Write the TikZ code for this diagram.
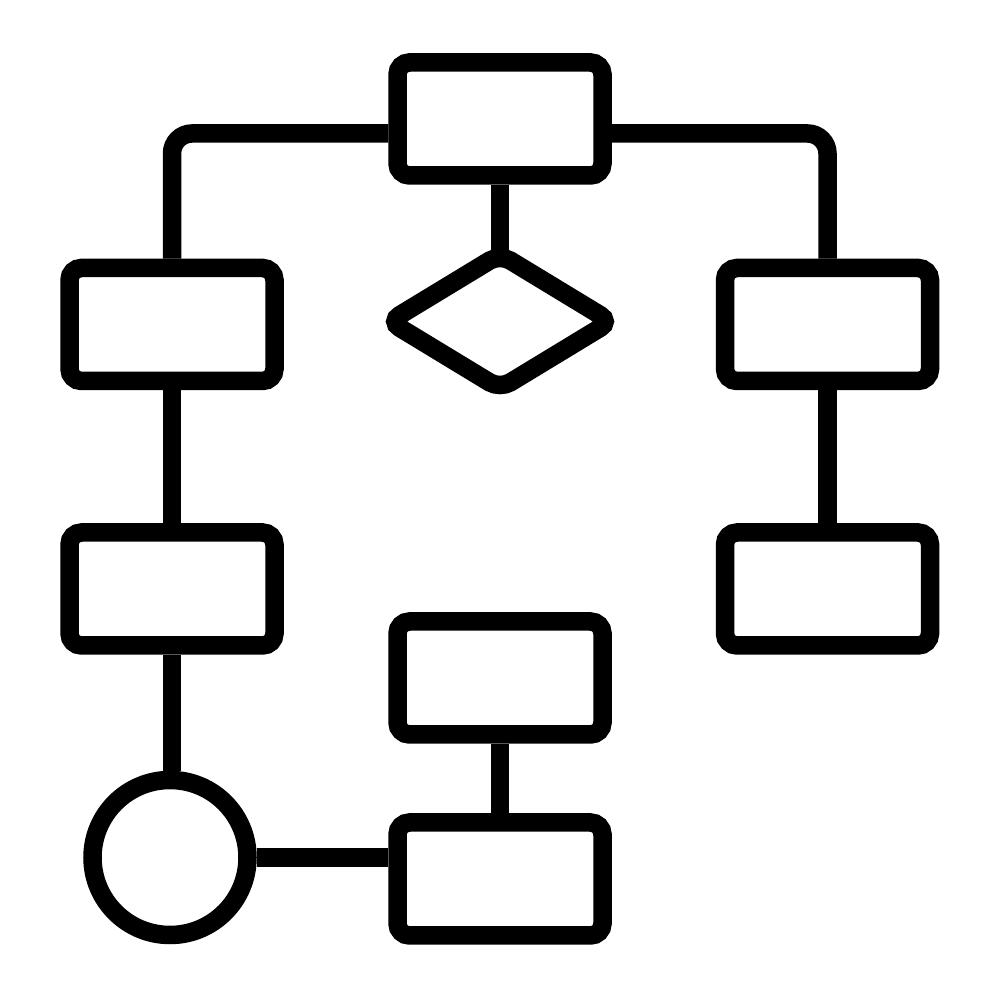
\documentclass[tikz,border=0pt]{standalone}
\usepackage{tikz}
\usetikzlibrary{shapes.geometric}

\begin{document}
\begin{tikzpicture}[
  flowbox/.style={draw,line width=1.85mm,rounded corners=1.2mm,inner sep=0pt,
    minimum width=2.05cm,minimum height=1.13cm},
  decision/.style={draw,diamond,line width=1.85mm,rounded corners=1.2mm,inner sep=0pt,
    minimum width=2.29cm,minimum height=1.42cm},
  terminal/.style={draw,circle,line width=1.85mm,inner sep=0pt,minimum size=1.55cm},
  link/.style={line width=1.85mm}]
\useasboundingbox (0,0) rectangle (10,10);
% boxes
\node[flowbox] (top) at (5.00,8.81) {};
\node[flowbox] (l1) at (1.72,6.755) {};
\node[flowbox] (l2) at (1.72,4.11) {};
\node[flowbox] (r1) at (8.275,6.755) {};
\node[flowbox] (r2) at (8.275,4.11) {};
\node[decision] (dec) at (5.00,6.785) {};
\node[flowbox] (mid) at (5.00,3.22) {};
\node[flowbox] (bot) at (5.00,1.21) {};
\node[terminal] (circ) at (1.70,1.425) {};
% connectors
\draw[link,rounded corners=2mm] ([yshift=-1.45mm]top.west) -| (l1.north);
\draw[link,rounded corners=2mm] ([yshift=-1.45mm]top.east) -| (r1.north);
\draw[link] (top.south) -- ([yshift=-1.6mm]dec.north);
\draw[link] (l1.south) -- (l2.north);
\draw[link] (r1.south) -- (r2.north);
\draw[link] (l2.south) -- (l2.south |- circ.north);
\draw[link] (circ.east) -- (circ.east -| bot.west);
\draw[link] (mid.south) -- (bot.north);
\end{tikzpicture}
\end{document}
